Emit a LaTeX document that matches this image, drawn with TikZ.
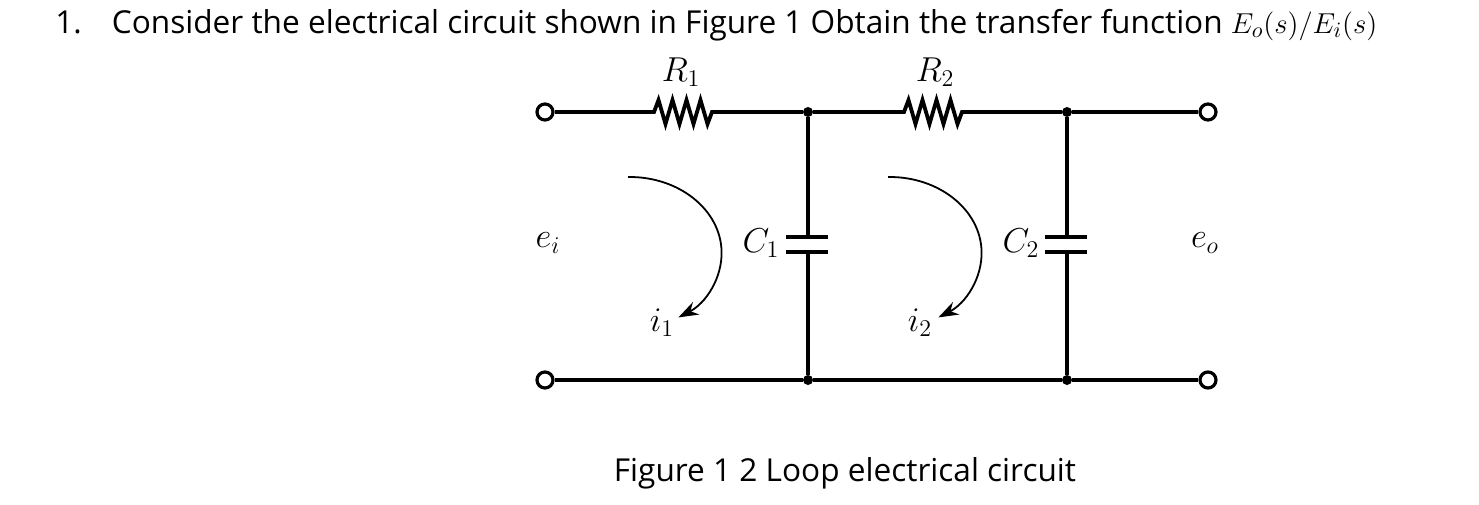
\documentclass[tikz,border=0pt]{standalone}
\usepackage{fontspec}
\setmainfont{Open Sans}
\usetikzlibrary{arrows.meta, calc}
\begin{document}
\begin{tikzpicture}[x=0.5pt,y=-0.5pt,
    wire/.style={line width=1.9pt},
    term/.style={circle, draw, line width=1.6pt, fill=white, inner sep=0pt, minimum size=8pt},
    dot/.style={circle, fill, inner sep=0pt, minimum size=5pt},
    lbl/.style={font=\fontsize{18}{18}\selectfont},
    loop/.style={line width=0.9pt, -{Stealth[length=10pt,width=7pt]}}]
  \useasboundingbox (0,0) rectangle (1479,504);
  % title and caption
  \node[anchor=west, inner sep=0pt, font=\fontsize{15.8}{17}\selectfont] (title) at (55,25)
    {1.\hspace{15pt}Consider the electrical circuit shown in Figure 1 Obtain the transfer function $E_o(s)/E_i(s)$};
  \node[font=\fontsize{15.8}{17}\selectfont] (cap) at (845,473) {Figure 1 2 Loop electrical circuit};
  % nodes
  \node[term] (ti) at (545,112) {};
  \node[term] (bi) at (545,380) {};
  \node[term] (to) at (1208,112) {};
  \node[term] (bo) at (1208,380) {};
  \node[dot] (n1) at (808,112) {};
  \node[dot] (n2) at (1067,112) {};
  \node[dot] (m1) at (808,380) {};
  \node[dot] (m2) at (1067,380) {};
  \coordinate (r1a) at (650,112); \coordinate (r1b) at (717,112);
  \coordinate (r2a) at (900,112); \coordinate (r2b) at (967,112);
  \coordinate (c1t) at (808,237); \coordinate (c1b) at (808,252);
  \coordinate (c2t) at (1067,237); \coordinate (c2b) at (1067,252);
  % wires
  \draw[wire] (ti) -- (r1a);
  \draw[wire] (r1a) -- ++(4,0) -- ++(4.5,-12) -- ++(7,24) -- ++(7,-24) -- ++(7,24)
     -- ++(7,-24) -- ++(7,24) -- ++(7,-24) -- ++(7,24) -- ++(4.5,-12) -- (r1b);
  \draw[wire] (r1b) -- (n1) -- (r2a);
  \draw[wire] (r2a) -- ++(4,0) -- ++(4.5,-12) -- ++(7,24) -- ++(7,-24) -- ++(7,24)
     -- ++(7,-24) -- ++(7,24) -- ++(7,-24) -- ++(7,24) -- ++(4.5,-12) -- (r2b);
  \draw[wire] (r2b) -- (n2) -- (to);
  \draw[wire] (bi) -- (m1) -- (m2) -- (bo);
  % capacitors
  \draw[wire] (n1) -- (c1t); \draw[wire] (c1b) -- (m1);
  \draw[wire] ($(c1t)+(-22,0)$) -- ($(c1t)+(20,0)$);
  \draw[wire] ($(c1b)+(-22,0)$) -- ($(c1b)+(20,0)$);
  \draw[wire] (n2) -- (c2t); \draw[wire] (c2b) -- (m2);
  \draw[wire] ($(c2t)+(-22,0)$) -- ($(c2t)+(20,0)$);
  \draw[wire] ($(c2b)+(-22,0)$) -- ($(c2b)+(20,0)$);
  % loop currents
  \draw[loop] (628,177) arc[start angle=91, end angle=-58, x radius=92, y radius=-76];
  \draw[loop] (888,177) arc[start angle=91, end angle=-58, x radius=92, y radius=-76];
  % labels
  \node[lbl] (lr1) at (681,72) {$R_1$};
  \node[lbl] (lr2) at (935,72) {$R_2$};
  \node[lbl] (lei) at (548,243) {$e_i$};
  \node[lbl] (lc1) at (761,243) {$C_1$};
  \node[lbl] (lc2) at (1021,243) {$C_2$};
  \node[lbl] (leo) at (1205,243) {$e_o$};
  \node[lbl] (li1) at (662,323) {$i_1$};
  \node[lbl] (li2) at (920,323) {$i_2$};
\end{tikzpicture}
\end{document}
